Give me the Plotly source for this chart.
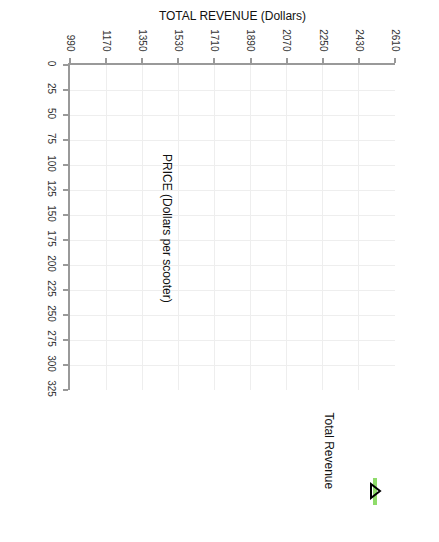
import plotly.graph_objects as go

# chart has no plotted points, only the axes and legend entry
price = []
revenue = []
x_ticks = [990, 1170, 1350, 1530, 1710, 1890, 2070, 2250, 2430, 2610]
y_ticks = [0, 25, 50, 75, 100, 125, 150, 175, 200, 225, 250, 275, 300, 325]

W, H = 439, 542
L, R, T, B = 62, 52, 57, 160

fig = go.Figure()
fig.add_trace(go.Scatter(x=revenue, y=price, mode='lines+markers', name='Total Revenue',
                         line=dict(color='#8fdc6a', width=3), showlegend=False))

axis_common = dict(showline=True, linecolor='#999999', linewidth=2, ticks='outside',
                   tickcolor='#999999', ticklen=5, tickwidth=2, showgrid=True,
                   gridcolor='#eeeeee', zeroline=False, tickangle=90, automargin=False,
                   ticklabelstandoff=3,
                   tickfont=dict(family='Liberation Sans', size=10, color='#333'))

fig.update_xaxes(side='top', range=[990, 2610], tickvals=x_ticks,
                 title=dict(text='TOTAL REVENUE (Dollars)', standoff=6,
                            font=dict(family='Liberation Sans', size=12, color='#111')),
                 **axis_common)
fig.update_yaxes(range=[325, 0], tickvals=y_ticks, **axis_common)


def xd(x):
    return (x - L) / (W - L - R)


def yd(y):
    return 1 - (y - T) / (H - T - B)


fig.update_layout(
    width=W, height=H,
    margin=dict(l=L, r=R, t=T, b=B),
    paper_bgcolor='white', plot_bgcolor='white',
    font=dict(family='Liberation Sans'),
    annotations=[
        dict(text='PRICE (Dollars per scooter)', textangle=90, xref='paper', yref='paper',
             x=xd(150), y=yd(220), showarrow=False, font=dict(size=12, color='#111')),
        dict(text='Total Revenue', textangle=90, xref='paper', yref='paper',
             x=xd(330), y=yd(483), showarrow=False, font=dict(size=12, color='#111')),
    ],
)

# legend symbol
fig.add_shape(type='line', xref='paper', yref='paper', x0=xd(367), x1=xd(367), y0=yd(470), y1=yd(497),
              line=dict(color='#8fdc6a', width=4))
fig.add_shape(type='path', xref='paper', yref='paper',
              path=f'M {xd(363)} {yd(476)} L {xd(372)} {yd(483)} L {xd(363)} {yd(490)} Z',
              line=dict(color='black', width=2), fillcolor='rgba(0,0,0,0)')

fig.write_html('out.html')
